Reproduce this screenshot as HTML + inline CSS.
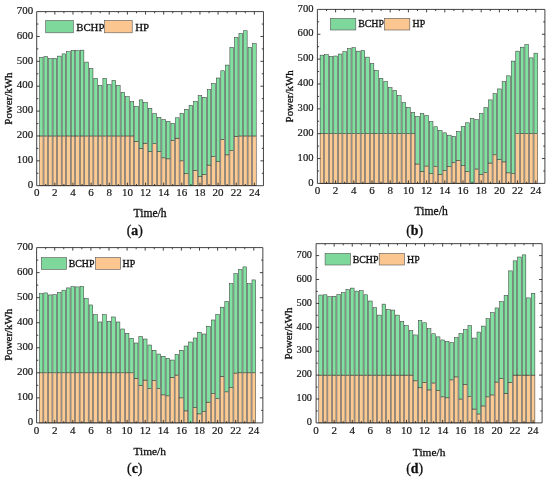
<!DOCTYPE html>
<html><head><meta charset="utf-8"><title>BCHP and HP power</title>
<style>
html,body{margin:0;padding:0;background:#fff}
svg{display:block;font-family:"Liberation Serif","DejaVu Serif",serif}
</style></head><body>
<svg width="550" height="480" viewBox="0 0 550 480">
<rect width="550" height="480" fill="#fff"/>
<g stroke="#303030" stroke-width="0.5"><rect x="39.41" y="135.96" width="3.65" height="49.74" fill="#fccb94"/><rect x="39.41" y="57.36" width="3.65" height="78.59" fill="#82e0a0"/><rect x="43.95" y="135.96" width="3.65" height="49.74" fill="#fccb94"/><rect x="43.95" y="56.62" width="3.65" height="79.34" fill="#82e0a0"/><rect x="48.48" y="135.96" width="3.65" height="49.74" fill="#fccb94"/><rect x="48.48" y="58.61" width="3.65" height="77.35" fill="#82e0a0"/><rect x="53.02" y="135.96" width="3.65" height="49.74" fill="#fccb94"/><rect x="53.02" y="58.36" width="3.65" height="77.6" fill="#82e0a0"/><rect x="57.55" y="135.96" width="3.65" height="49.74" fill="#fccb94"/><rect x="57.55" y="56.12" width="3.65" height="79.84" fill="#82e0a0"/><rect x="62.09" y="135.96" width="3.65" height="49.74" fill="#fccb94"/><rect x="62.09" y="53.88" width="3.65" height="82.08" fill="#82e0a0"/><rect x="66.62" y="135.96" width="3.65" height="49.74" fill="#fccb94"/><rect x="66.62" y="51.64" width="3.65" height="84.31" fill="#82e0a0"/><rect x="71.16" y="135.96" width="3.65" height="49.74" fill="#fccb94"/><rect x="71.16" y="50.4" width="3.65" height="85.56" fill="#82e0a0"/><rect x="75.69" y="135.96" width="3.65" height="49.74" fill="#fccb94"/><rect x="75.69" y="50.65" width="3.65" height="85.31" fill="#82e0a0"/><rect x="80.23" y="135.96" width="3.65" height="49.74" fill="#fccb94"/><rect x="80.23" y="50.15" width="3.65" height="85.81" fill="#82e0a0"/><rect x="84.76" y="135.96" width="3.65" height="49.74" fill="#fccb94"/><rect x="84.76" y="62.09" width="3.65" height="73.87" fill="#82e0a0"/><rect x="89.3" y="135.96" width="3.65" height="49.74" fill="#fccb94"/><rect x="89.3" y="68.56" width="3.65" height="67.4" fill="#82e0a0"/><rect x="93.83" y="135.96" width="3.65" height="49.74" fill="#fccb94"/><rect x="93.83" y="78.26" width="3.65" height="57.7" fill="#82e0a0"/><rect x="98.36" y="135.96" width="3.65" height="49.74" fill="#fccb94"/><rect x="98.36" y="85.47" width="3.65" height="50.49" fill="#82e0a0"/><rect x="102.9" y="135.96" width="3.65" height="49.74" fill="#fccb94"/><rect x="102.9" y="78.26" width="3.65" height="57.7" fill="#82e0a0"/><rect x="107.44" y="135.96" width="3.65" height="49.74" fill="#fccb94"/><rect x="107.44" y="84.72" width="3.65" height="51.24" fill="#82e0a0"/><rect x="111.97" y="135.96" width="3.65" height="49.74" fill="#fccb94"/><rect x="111.97" y="80.49" width="3.65" height="55.46" fill="#82e0a0"/><rect x="116.5" y="135.96" width="3.65" height="49.74" fill="#fccb94"/><rect x="116.5" y="85.47" width="3.65" height="50.49" fill="#82e0a0"/><rect x="121.04" y="135.96" width="3.65" height="49.74" fill="#fccb94"/><rect x="121.04" y="92.43" width="3.65" height="43.53" fill="#82e0a0"/><rect x="125.58" y="135.96" width="3.65" height="49.74" fill="#fccb94"/><rect x="125.58" y="96.66" width="3.65" height="39.3" fill="#82e0a0"/><rect x="130.11" y="135.96" width="3.65" height="49.74" fill="#fccb94"/><rect x="130.11" y="101.63" width="3.65" height="34.32" fill="#82e0a0"/><rect x="134.65" y="141.43" width="3.65" height="44.27" fill="#fccb94"/><rect x="134.65" y="106.36" width="3.65" height="35.07" fill="#82e0a0"/><rect x="139.18" y="148.39" width="3.65" height="37.31" fill="#fccb94"/><rect x="139.18" y="99.89" width="3.65" height="48.5" fill="#82e0a0"/><rect x="143.72" y="143.17" width="3.65" height="42.53" fill="#fccb94"/><rect x="143.72" y="102.38" width="3.65" height="40.79" fill="#82e0a0"/><rect x="148.25" y="151.63" width="3.65" height="34.07" fill="#fccb94"/><rect x="148.25" y="108.35" width="3.65" height="43.28" fill="#82e0a0"/><rect x="152.79" y="143.67" width="3.65" height="42.03" fill="#fccb94"/><rect x="152.79" y="113.57" width="3.65" height="30.09" fill="#82e0a0"/><rect x="157.32" y="151.63" width="3.65" height="34.07" fill="#fccb94"/><rect x="157.32" y="117.3" width="3.65" height="34.32" fill="#82e0a0"/><rect x="161.86" y="157.84" width="3.65" height="27.86" fill="#fccb94"/><rect x="161.86" y="119.54" width="3.65" height="38.3" fill="#82e0a0"/><rect x="166.39" y="158.84" width="3.65" height="26.86" fill="#fccb94"/><rect x="166.39" y="121.53" width="3.65" height="37.31" fill="#82e0a0"/><rect x="170.93" y="140.43" width="3.65" height="45.27" fill="#fccb94"/><rect x="170.93" y="123.27" width="3.65" height="17.16" fill="#82e0a0"/><rect x="175.46" y="138.2" width="3.65" height="47.5" fill="#fccb94"/><rect x="175.46" y="117.8" width="3.65" height="20.39" fill="#82e0a0"/><rect x="180" y="160.83" width="3.65" height="24.87" fill="#fccb94"/><rect x="180" y="113.57" width="3.65" height="47.26" fill="#82e0a0"/><rect x="184.53" y="173.76" width="3.65" height="11.94" fill="#fccb94"/><rect x="184.53" y="109.34" width="3.65" height="64.42" fill="#82e0a0"/><rect x="189.06" y="105.37" width="3.65" height="80.33" fill="#82e0a0"/><rect x="193.6" y="170.53" width="3.65" height="15.17" fill="#fccb94"/><rect x="193.6" y="101.39" width="3.65" height="69.14" fill="#82e0a0"/><rect x="198.13" y="176.75" width="3.65" height="8.95" fill="#fccb94"/><rect x="198.13" y="95.67" width="3.65" height="81.08" fill="#82e0a0"/><rect x="202.67" y="174.51" width="3.65" height="11.19" fill="#fccb94"/><rect x="202.67" y="97.41" width="3.65" height="77.1" fill="#82e0a0"/><rect x="207.21" y="165.06" width="3.65" height="20.64" fill="#fccb94"/><rect x="207.21" y="89.7" width="3.65" height="75.36" fill="#82e0a0"/><rect x="211.74" y="156.6" width="3.65" height="29.1" fill="#fccb94"/><rect x="211.74" y="83.48" width="3.65" height="73.12" fill="#82e0a0"/><rect x="216.28" y="161.57" width="3.65" height="24.13" fill="#fccb94"/><rect x="216.28" y="78.01" width="3.65" height="83.57" fill="#82e0a0"/><rect x="220.81" y="139.44" width="3.65" height="46.26" fill="#fccb94"/><rect x="220.81" y="70.79" width="3.65" height="68.65" fill="#82e0a0"/><rect x="225.35" y="154.86" width="3.65" height="30.84" fill="#fccb94"/><rect x="225.35" y="65.07" width="3.65" height="89.79" fill="#82e0a0"/><rect x="229.88" y="150.63" width="3.65" height="35.07" fill="#fccb94"/><rect x="229.88" y="47.41" width="3.65" height="103.22" fill="#82e0a0"/><rect x="234.42" y="136.21" width="3.65" height="49.49" fill="#fccb94"/><rect x="234.42" y="37.47" width="3.65" height="98.74" fill="#82e0a0"/><rect x="238.95" y="135.96" width="3.65" height="49.74" fill="#fccb94"/><rect x="238.95" y="33.49" width="3.65" height="102.47" fill="#82e0a0"/><rect x="243.49" y="135.96" width="3.65" height="49.74" fill="#fccb94"/><rect x="243.49" y="30.75" width="3.65" height="105.21" fill="#82e0a0"/><rect x="248.02" y="135.96" width="3.65" height="49.74" fill="#fccb94"/><rect x="248.02" y="47.41" width="3.65" height="88.54" fill="#82e0a0"/><rect x="252.56" y="135.96" width="3.65" height="49.74" fill="#fccb94"/><rect x="252.56" y="43.68" width="3.65" height="92.27" fill="#82e0a0"/></g>
<path d="M36.7 11.6H263.45V185.7H36.7ZM45.77 185.7v-1.7M45.77 11.6v1.7M54.84 185.7v-3M54.84 11.6v3M63.91 185.7v-1.7M63.91 11.6v1.7M72.98 185.7v-3M72.98 11.6v3M82.05 185.7v-1.7M82.05 11.6v1.7M91.12 185.7v-3M91.12 11.6v3M100.19 185.7v-1.7M100.19 11.6v1.7M109.26 185.7v-3M109.26 11.6v3M118.33 185.7v-1.7M118.33 11.6v1.7M127.4 185.7v-3M127.4 11.6v3M136.47 185.7v-1.7M136.47 11.6v1.7M145.54 185.7v-3M145.54 11.6v3M154.61 185.7v-1.7M154.61 11.6v1.7M163.68 185.7v-3M163.68 11.6v3M172.75 185.7v-1.7M172.75 11.6v1.7M181.82 185.7v-3M181.82 11.6v3M190.89 185.7v-1.7M190.89 11.6v1.7M199.96 185.7v-3M199.96 11.6v3M209.03 185.7v-1.7M209.03 11.6v1.7M218.1 185.7v-3M218.1 11.6v3M227.17 185.7v-1.7M227.17 11.6v1.7M236.24 185.7v-3M236.24 11.6v3M245.31 185.7v-1.7M245.31 11.6v1.7M254.38 185.7v-3M254.38 11.6v3M36.7 173.26h1.7M263.45 173.26h-1.7M36.7 160.83h3M263.45 160.83h-3M36.7 148.39h1.7M263.45 148.39h-1.7M36.7 135.96h3M263.45 135.96h-3M36.7 123.52h1.7M263.45 123.52h-1.7M36.7 111.09h3M263.45 111.09h-3M36.7 98.65h1.7M263.45 98.65h-1.7M36.7 86.21h3M263.45 86.21h-3M36.7 73.78h1.7M263.45 73.78h-1.7M36.7 61.34h3M263.45 61.34h-3M36.7 48.91h1.7M263.45 48.91h-1.7M36.7 36.47h3M263.45 36.47h-3M36.7 24.04h1.7M263.45 24.04h-1.7" fill="none" stroke="#222" stroke-width="0.85"/>
<g font-size="10.9" fill="#161616" stroke="#161616" stroke-width="0.18"><text x="36.7" y="196.1" text-anchor="middle" font-size="11">0</text><text x="54.84" y="196.1" text-anchor="middle" font-size="11">2</text><text x="72.98" y="196.1" text-anchor="middle" font-size="11">4</text><text x="91.12" y="196.1" text-anchor="middle" font-size="11">6</text><text x="109.26" y="196.1" text-anchor="middle" font-size="11">8</text><text x="127.4" y="196.1" text-anchor="middle" font-size="11">10</text><text x="145.54" y="196.1" text-anchor="middle" font-size="11">12</text><text x="163.68" y="196.1" text-anchor="middle" font-size="11">14</text><text x="181.82" y="196.1" text-anchor="middle" font-size="11">16</text><text x="199.96" y="196.1" text-anchor="middle" font-size="11">18</text><text x="218.1" y="196.1" text-anchor="middle" font-size="11">20</text><text x="236.24" y="196.1" text-anchor="middle" font-size="11">22</text><text x="254.38" y="196.1" text-anchor="middle" font-size="11">24</text><text x="33.2" y="187.9" text-anchor="end">0</text><text x="33.2" y="163.03" text-anchor="end">100</text><text x="33.2" y="138.16" text-anchor="end">200</text><text x="33.2" y="113.29" text-anchor="end">300</text><text x="33.2" y="88.41" text-anchor="end">400</text><text x="33.2" y="63.54" text-anchor="end">500</text><text x="33.2" y="38.67" text-anchor="end">600</text><text x="33.2" y="13.8" text-anchor="end">700</text></g>
<text x="150.07" y="216.9" text-anchor="middle" font-size="11.6" fill="#101010" stroke="#101010" stroke-width="0.3">Time/h</text>
<text transform="translate(12.4 98.65) rotate(-90)" text-anchor="middle" font-size="10.9" fill="#101010" stroke="#101010" stroke-width="0.3">Power/kWh</text>
<rect x="45.7" y="20.5" width="27.6" height="12.3" fill="#7fd89b" stroke="#555" stroke-width="0.6"/>
<text x="76.2" y="30.5" font-size="10.8" fill="#101010" stroke="#101010" stroke-width="0.3">BCHP</text>
<rect x="104.6" y="20.5" width="27.6" height="12.3" fill="#fbc690" stroke="#555" stroke-width="0.6"/>
<text x="135.2" y="30.5" font-size="10.8" fill="#101010" stroke="#101010" stroke-width="0.3">HP</text>
<text x="134.8" y="235.4" text-anchor="middle" font-size="13.8" fill="#101010" stroke="#101010" stroke-width="0.3">(<tspan font-weight="bold">a</tspan>)</text>
<g stroke="#303030" stroke-width="0.5"><rect x="320.12" y="133.69" width="3.65" height="49.71" fill="#fccb94"/><rect x="320.12" y="55.14" width="3.65" height="78.55" fill="#82e0a0"/><rect x="324.68" y="133.69" width="3.65" height="49.71" fill="#fccb94"/><rect x="324.68" y="54.64" width="3.65" height="79.05" fill="#82e0a0"/><rect x="329.22" y="133.69" width="3.65" height="49.71" fill="#fccb94"/><rect x="329.22" y="56.63" width="3.65" height="77.06" fill="#82e0a0"/><rect x="333.77" y="133.69" width="3.65" height="49.71" fill="#fccb94"/><rect x="333.77" y="56.01" width="3.65" height="77.68" fill="#82e0a0"/><rect x="338.32" y="133.69" width="3.65" height="49.71" fill="#fccb94"/><rect x="338.32" y="54.02" width="3.65" height="79.67" fill="#82e0a0"/><rect x="342.88" y="133.69" width="3.65" height="49.71" fill="#fccb94"/><rect x="342.88" y="51.66" width="3.65" height="82.03" fill="#82e0a0"/><rect x="347.43" y="133.69" width="3.65" height="49.71" fill="#fccb94"/><rect x="347.43" y="48.67" width="3.65" height="85.01" fill="#82e0a0"/><rect x="351.97" y="133.69" width="3.65" height="49.71" fill="#fccb94"/><rect x="351.97" y="47.68" width="3.65" height="86.01" fill="#82e0a0"/><rect x="356.52" y="133.69" width="3.65" height="49.71" fill="#fccb94"/><rect x="356.52" y="51.16" width="3.65" height="82.53" fill="#82e0a0"/><rect x="361.07" y="133.69" width="3.65" height="49.71" fill="#fccb94"/><rect x="361.07" y="50.66" width="3.65" height="83.02" fill="#82e0a0"/><rect x="365.62" y="133.69" width="3.65" height="49.71" fill="#fccb94"/><rect x="365.62" y="57.13" width="3.65" height="76.56" fill="#82e0a0"/><rect x="370.18" y="133.69" width="3.65" height="49.71" fill="#fccb94"/><rect x="370.18" y="63.59" width="3.65" height="70.1" fill="#82e0a0"/><rect x="374.72" y="133.69" width="3.65" height="49.71" fill="#fccb94"/><rect x="374.72" y="70.55" width="3.65" height="63.14" fill="#82e0a0"/><rect x="379.27" y="133.69" width="3.65" height="49.71" fill="#fccb94"/><rect x="379.27" y="78.5" width="3.65" height="55.18" fill="#82e0a0"/><rect x="383.82" y="133.69" width="3.65" height="49.71" fill="#fccb94"/><rect x="383.82" y="81.61" width="3.65" height="52.08" fill="#82e0a0"/><rect x="388.38" y="133.69" width="3.65" height="49.71" fill="#fccb94"/><rect x="388.38" y="87.7" width="3.65" height="45.99" fill="#82e0a0"/><rect x="392.93" y="133.69" width="3.65" height="49.71" fill="#fccb94"/><rect x="392.93" y="90.56" width="3.65" height="43.13" fill="#82e0a0"/><rect x="397.47" y="133.69" width="3.65" height="49.71" fill="#fccb94"/><rect x="397.47" y="95.65" width="3.65" height="38.03" fill="#82e0a0"/><rect x="402.02" y="133.69" width="3.65" height="49.71" fill="#fccb94"/><rect x="402.02" y="102.61" width="3.65" height="31.07" fill="#82e0a0"/><rect x="406.57" y="133.69" width="3.65" height="49.71" fill="#fccb94"/><rect x="406.57" y="107.34" width="3.65" height="26.35" fill="#82e0a0"/><rect x="411.12" y="133.69" width="3.65" height="49.71" fill="#fccb94"/><rect x="411.12" y="112.56" width="3.65" height="21.13" fill="#82e0a0"/><rect x="415.68" y="164.01" width="3.65" height="19.39" fill="#fccb94"/><rect x="415.68" y="116.41" width="3.65" height="47.6" fill="#82e0a0"/><rect x="420.22" y="171.47" width="3.65" height="11.93" fill="#fccb94"/><rect x="420.22" y="113.55" width="3.65" height="57.92" fill="#82e0a0"/><rect x="424.77" y="166" width="3.65" height="17.4" fill="#fccb94"/><rect x="424.77" y="115.54" width="3.65" height="50.46" fill="#82e0a0"/><rect x="429.32" y="173.71" width="3.65" height="9.69" fill="#fccb94"/><rect x="429.32" y="121.61" width="3.65" height="52.1" fill="#82e0a0"/><rect x="433.88" y="166.6" width="3.65" height="16.8" fill="#fccb94"/><rect x="433.88" y="126.8" width="3.65" height="39.8" fill="#82e0a0"/><rect x="438.43" y="174.45" width="3.65" height="8.95" fill="#fccb94"/><rect x="438.43" y="130.45" width="3.65" height="44" fill="#82e0a0"/><rect x="442.97" y="170.47" width="3.65" height="12.93" fill="#fccb94"/><rect x="442.97" y="132.82" width="3.65" height="37.66" fill="#82e0a0"/><rect x="447.52" y="166.75" width="3.65" height="16.65" fill="#fccb94"/><rect x="447.52" y="135.18" width="3.65" height="31.57" fill="#82e0a0"/><rect x="452.07" y="162.77" width="3.65" height="20.63" fill="#fccb94"/><rect x="452.07" y="136.42" width="3.65" height="26.35" fill="#82e0a0"/><rect x="456.62" y="160.53" width="3.65" height="22.87" fill="#fccb94"/><rect x="456.62" y="131.45" width="3.65" height="29.08" fill="#82e0a0"/><rect x="461.18" y="165.75" width="3.65" height="17.65" fill="#fccb94"/><rect x="461.18" y="126.6" width="3.65" height="39.15" fill="#82e0a0"/><rect x="465.72" y="171.59" width="3.65" height="11.81" fill="#fccb94"/><rect x="465.72" y="122.8" width="3.65" height="48.79" fill="#82e0a0"/><rect x="470.27" y="118.6" width="3.65" height="64.8" fill="#82e0a0"/><rect x="474.82" y="168.98" width="3.65" height="14.42" fill="#fccb94"/><rect x="474.82" y="119.62" width="3.65" height="49.37" fill="#82e0a0"/><rect x="479.37" y="174.45" width="3.65" height="8.95" fill="#fccb94"/><rect x="479.37" y="113.55" width="3.65" height="60.9" fill="#82e0a0"/><rect x="483.93" y="172.71" width="3.65" height="10.69" fill="#fccb94"/><rect x="483.93" y="107.59" width="3.65" height="65.13" fill="#82e0a0"/><rect x="488.47" y="163.02" width="3.65" height="20.38" fill="#fccb94"/><rect x="488.47" y="99.88" width="3.65" height="63.14" fill="#82e0a0"/><rect x="493.02" y="154.81" width="3.65" height="28.59" fill="#fccb94"/><rect x="493.02" y="93.67" width="3.65" height="61.15" fill="#82e0a0"/><rect x="497.57" y="159.54" width="3.65" height="23.86" fill="#fccb94"/><rect x="497.57" y="88.94" width="3.65" height="70.59" fill="#82e0a0"/><rect x="502.12" y="161.9" width="3.65" height="21.5" fill="#fccb94"/><rect x="502.12" y="81.73" width="3.65" height="80.16" fill="#82e0a0"/><rect x="506.68" y="172.84" width="3.65" height="10.56" fill="#fccb94"/><rect x="506.68" y="75.87" width="3.65" height="96.97" fill="#82e0a0"/><rect x="511.22" y="173.71" width="3.65" height="9.69" fill="#fccb94"/><rect x="511.22" y="61.1" width="3.65" height="112.6" fill="#82e0a0"/><rect x="515.77" y="133.69" width="3.65" height="49.71" fill="#fccb94"/><rect x="515.77" y="51.16" width="3.65" height="82.53" fill="#82e0a0"/><rect x="520.32" y="133.69" width="3.65" height="49.71" fill="#fccb94"/><rect x="520.32" y="47.18" width="3.65" height="86.5" fill="#82e0a0"/><rect x="524.87" y="133.69" width="3.65" height="49.71" fill="#fccb94"/><rect x="524.87" y="44.7" width="3.65" height="88.99" fill="#82e0a0"/><rect x="529.42" y="133.69" width="3.65" height="49.71" fill="#fccb94"/><rect x="529.42" y="57.87" width="3.65" height="75.81" fill="#82e0a0"/><rect x="533.97" y="133.69" width="3.65" height="49.71" fill="#fccb94"/><rect x="533.97" y="53.15" width="3.65" height="80.54" fill="#82e0a0"/></g>
<path d="M317.4 9.4H544.9V183.4H317.4ZM326.5 183.4v-1.7M326.5 9.4v1.7M335.6 183.4v-3M335.6 9.4v3M344.7 183.4v-1.7M344.7 9.4v1.7M353.8 183.4v-3M353.8 9.4v3M362.9 183.4v-1.7M362.9 9.4v1.7M372 183.4v-3M372 9.4v3M381.1 183.4v-1.7M381.1 9.4v1.7M390.2 183.4v-3M390.2 9.4v3M399.3 183.4v-1.7M399.3 9.4v1.7M408.4 183.4v-3M408.4 9.4v3M417.5 183.4v-1.7M417.5 9.4v1.7M426.6 183.4v-3M426.6 9.4v3M435.7 183.4v-1.7M435.7 9.4v1.7M444.8 183.4v-3M444.8 9.4v3M453.9 183.4v-1.7M453.9 9.4v1.7M463 183.4v-3M463 9.4v3M472.1 183.4v-1.7M472.1 9.4v1.7M481.2 183.4v-3M481.2 9.4v3M490.3 183.4v-1.7M490.3 9.4v1.7M499.4 183.4v-3M499.4 9.4v3M508.5 183.4v-1.7M508.5 9.4v1.7M517.6 183.4v-3M517.6 9.4v3M526.7 183.4v-1.7M526.7 9.4v1.7M535.8 183.4v-3M535.8 9.4v3M317.4 170.97h1.7M544.9 170.97h-1.7M317.4 158.54h3M544.9 158.54h-3M317.4 146.11h1.7M544.9 146.11h-1.7M317.4 133.69h3M544.9 133.69h-3M317.4 121.26h1.7M544.9 121.26h-1.7M317.4 108.83h3M544.9 108.83h-3M317.4 96.4h1.7M544.9 96.4h-1.7M317.4 83.97h3M544.9 83.97h-3M317.4 71.54h1.7M544.9 71.54h-1.7M317.4 59.11h3M544.9 59.11h-3M317.4 46.69h1.7M544.9 46.69h-1.7M317.4 34.26h3M544.9 34.26h-3M317.4 21.83h1.7M544.9 21.83h-1.7" fill="none" stroke="#222" stroke-width="0.85"/>
<g font-size="10.6" fill="#161616" stroke="#161616" stroke-width="0.18"><text x="317.4" y="194.2" text-anchor="middle" font-size="11">0</text><text x="335.6" y="194.2" text-anchor="middle" font-size="11">2</text><text x="353.8" y="194.2" text-anchor="middle" font-size="11">4</text><text x="372" y="194.2" text-anchor="middle" font-size="11">6</text><text x="390.2" y="194.2" text-anchor="middle" font-size="11">8</text><text x="408.4" y="194.2" text-anchor="middle" font-size="11">10</text><text x="426.6" y="194.2" text-anchor="middle" font-size="11">12</text><text x="444.8" y="194.2" text-anchor="middle" font-size="11">14</text><text x="463" y="194.2" text-anchor="middle" font-size="11">16</text><text x="481.2" y="194.2" text-anchor="middle" font-size="11">18</text><text x="499.4" y="194.2" text-anchor="middle" font-size="11">20</text><text x="517.6" y="194.2" text-anchor="middle" font-size="11">22</text><text x="535.8" y="194.2" text-anchor="middle" font-size="11">24</text><text x="313.5" y="185.6" text-anchor="end">0</text><text x="313.5" y="160.74" text-anchor="end">100</text><text x="313.5" y="135.89" text-anchor="end">200</text><text x="313.5" y="111.03" text-anchor="end">300</text><text x="313.5" y="86.17" text-anchor="end">400</text><text x="313.5" y="61.31" text-anchor="end">500</text><text x="313.5" y="36.46" text-anchor="end">600</text><text x="313.5" y="11.6" text-anchor="end">700</text></g>
<text x="431.15" y="215.4" text-anchor="middle" font-size="11.6" fill="#101010" stroke="#101010" stroke-width="0.3">Time/h</text>
<text transform="translate(292.7 96.4) rotate(-90)" text-anchor="middle" font-size="10.9" fill="#101010" stroke="#101010" stroke-width="0.3">Power/kWh</text>
<rect x="330.5" y="18.4" width="25.3" height="11.6" fill="#7fd89b" stroke="#555" stroke-width="0.6"/>
<text x="358.2" y="27.4" font-size="9.9" fill="#101010" stroke="#101010" stroke-width="0.3">BCHP</text>
<rect x="384.5" y="18.4" width="25.3" height="11.6" fill="#fbc690" stroke="#555" stroke-width="0.6"/>
<text x="412.6" y="27.4" font-size="9.9" fill="#101010" stroke="#101010" stroke-width="0.3">HP</text>
<text x="414.7" y="234.8" text-anchor="middle" font-size="13.8" fill="#101010" stroke="#101010" stroke-width="0.3">(<tspan font-weight="bold">b</tspan>)</text>
<g stroke="#303030" stroke-width="0.5"><rect x="39.3" y="372.81" width="3.65" height="50.09" fill="#fccb94"/><rect x="39.3" y="293.68" width="3.65" height="79.14" fill="#82e0a0"/><rect x="43.83" y="372.81" width="3.65" height="50.09" fill="#fccb94"/><rect x="43.83" y="292.93" width="3.65" height="79.89" fill="#82e0a0"/><rect x="48.35" y="372.81" width="3.65" height="50.09" fill="#fccb94"/><rect x="48.35" y="294.93" width="3.65" height="77.88" fill="#82e0a0"/><rect x="52.88" y="372.81" width="3.65" height="50.09" fill="#fccb94"/><rect x="52.88" y="294.68" width="3.65" height="78.13" fill="#82e0a0"/><rect x="57.4" y="372.81" width="3.65" height="50.09" fill="#fccb94"/><rect x="57.4" y="292.43" width="3.65" height="80.39" fill="#82e0a0"/><rect x="61.92" y="372.81" width="3.65" height="50.09" fill="#fccb94"/><rect x="61.92" y="290.17" width="3.65" height="82.64" fill="#82e0a0"/><rect x="66.45" y="372.81" width="3.65" height="50.09" fill="#fccb94"/><rect x="66.45" y="287.92" width="3.65" height="84.9" fill="#82e0a0"/><rect x="70.98" y="372.81" width="3.65" height="50.09" fill="#fccb94"/><rect x="70.98" y="286.67" width="3.65" height="86.15" fill="#82e0a0"/><rect x="75.5" y="372.81" width="3.65" height="50.09" fill="#fccb94"/><rect x="75.5" y="286.92" width="3.65" height="85.9" fill="#82e0a0"/><rect x="80.02" y="372.81" width="3.65" height="50.09" fill="#fccb94"/><rect x="80.02" y="286.42" width="3.65" height="86.4" fill="#82e0a0"/><rect x="84.55" y="372.81" width="3.65" height="50.09" fill="#fccb94"/><rect x="84.55" y="298.44" width="3.65" height="74.38" fill="#82e0a0"/><rect x="89.08" y="372.81" width="3.65" height="50.09" fill="#fccb94"/><rect x="89.08" y="304.95" width="3.65" height="67.87" fill="#82e0a0"/><rect x="93.6" y="372.81" width="3.65" height="50.09" fill="#fccb94"/><rect x="93.6" y="314.71" width="3.65" height="58.1" fill="#82e0a0"/><rect x="98.13" y="372.81" width="3.65" height="50.09" fill="#fccb94"/><rect x="98.13" y="321.98" width="3.65" height="50.84" fill="#82e0a0"/><rect x="102.65" y="372.81" width="3.65" height="50.09" fill="#fccb94"/><rect x="102.65" y="314.71" width="3.65" height="58.1" fill="#82e0a0"/><rect x="107.17" y="372.81" width="3.65" height="50.09" fill="#fccb94"/><rect x="107.17" y="321.23" width="3.65" height="51.59" fill="#82e0a0"/><rect x="111.7" y="372.81" width="3.65" height="50.09" fill="#fccb94"/><rect x="111.7" y="316.97" width="3.65" height="55.85" fill="#82e0a0"/><rect x="116.23" y="372.81" width="3.65" height="50.09" fill="#fccb94"/><rect x="116.23" y="321.98" width="3.65" height="50.84" fill="#82e0a0"/><rect x="120.75" y="372.81" width="3.65" height="50.09" fill="#fccb94"/><rect x="120.75" y="328.99" width="3.65" height="43.82" fill="#82e0a0"/><rect x="125.27" y="372.81" width="3.65" height="50.09" fill="#fccb94"/><rect x="125.27" y="333.25" width="3.65" height="39.57" fill="#82e0a0"/><rect x="129.8" y="372.81" width="3.65" height="50.09" fill="#fccb94"/><rect x="129.8" y="338.26" width="3.65" height="34.56" fill="#82e0a0"/><rect x="134.33" y="378.32" width="3.65" height="44.58" fill="#fccb94"/><rect x="134.33" y="343.01" width="3.65" height="35.31" fill="#82e0a0"/><rect x="138.85" y="385.34" width="3.65" height="37.56" fill="#fccb94"/><rect x="138.85" y="336.5" width="3.65" height="48.83" fill="#82e0a0"/><rect x="143.38" y="380.08" width="3.65" height="42.82" fill="#fccb94"/><rect x="143.38" y="339.01" width="3.65" height="41.07" fill="#82e0a0"/><rect x="147.9" y="388.59" width="3.65" height="34.31" fill="#fccb94"/><rect x="147.9" y="345.02" width="3.65" height="43.57" fill="#82e0a0"/><rect x="152.43" y="380.58" width="3.65" height="42.32" fill="#fccb94"/><rect x="152.43" y="350.28" width="3.65" height="30.3" fill="#82e0a0"/><rect x="156.95" y="388.59" width="3.65" height="34.31" fill="#fccb94"/><rect x="156.95" y="354.03" width="3.65" height="34.56" fill="#82e0a0"/><rect x="161.48" y="394.85" width="3.65" height="28.05" fill="#fccb94"/><rect x="161.48" y="356.29" width="3.65" height="38.57" fill="#82e0a0"/><rect x="166" y="395.85" width="3.65" height="27.05" fill="#fccb94"/><rect x="166" y="358.29" width="3.65" height="37.56" fill="#82e0a0"/><rect x="170.53" y="377.32" width="3.65" height="45.58" fill="#fccb94"/><rect x="170.53" y="360.04" width="3.65" height="17.28" fill="#82e0a0"/><rect x="175.05" y="375.07" width="3.65" height="47.83" fill="#fccb94"/><rect x="175.05" y="354.53" width="3.65" height="20.54" fill="#82e0a0"/><rect x="179.58" y="397.86" width="3.65" height="25.04" fill="#fccb94"/><rect x="179.58" y="350.28" width="3.65" height="47.58" fill="#82e0a0"/><rect x="184.1" y="410.88" width="3.65" height="12.02" fill="#fccb94"/><rect x="184.1" y="346.02" width="3.65" height="64.86" fill="#82e0a0"/><rect x="188.63" y="342.01" width="3.65" height="80.89" fill="#82e0a0"/><rect x="193.15" y="407.62" width="3.65" height="15.28" fill="#fccb94"/><rect x="193.15" y="338" width="3.65" height="69.62" fill="#82e0a0"/><rect x="197.68" y="413.88" width="3.65" height="9.02" fill="#fccb94"/><rect x="197.68" y="332.24" width="3.65" height="81.64" fill="#82e0a0"/><rect x="202.2" y="411.63" width="3.65" height="11.27" fill="#fccb94"/><rect x="202.2" y="334" width="3.65" height="77.63" fill="#82e0a0"/><rect x="206.73" y="402.11" width="3.65" height="20.79" fill="#fccb94"/><rect x="206.73" y="326.23" width="3.65" height="75.88" fill="#82e0a0"/><rect x="211.25" y="393.6" width="3.65" height="29.3" fill="#fccb94"/><rect x="211.25" y="319.97" width="3.65" height="73.63" fill="#82e0a0"/><rect x="215.78" y="398.61" width="3.65" height="24.29" fill="#fccb94"/><rect x="215.78" y="314.46" width="3.65" height="84.14" fill="#82e0a0"/><rect x="220.3" y="376.32" width="3.65" height="46.58" fill="#fccb94"/><rect x="220.3" y="307.2" width="3.65" height="69.12" fill="#82e0a0"/><rect x="224.83" y="391.85" width="3.65" height="31.05" fill="#fccb94"/><rect x="224.83" y="301.44" width="3.65" height="90.4" fill="#82e0a0"/><rect x="229.35" y="387.59" width="3.65" height="35.31" fill="#fccb94"/><rect x="229.35" y="283.66" width="3.65" height="103.93" fill="#82e0a0"/><rect x="233.88" y="373.06" width="3.65" height="49.84" fill="#fccb94"/><rect x="233.88" y="273.64" width="3.65" height="99.42" fill="#82e0a0"/><rect x="238.4" y="372.81" width="3.65" height="50.09" fill="#fccb94"/><rect x="238.4" y="269.64" width="3.65" height="103.18" fill="#82e0a0"/><rect x="242.93" y="372.81" width="3.65" height="50.09" fill="#fccb94"/><rect x="242.93" y="266.88" width="3.65" height="105.93" fill="#82e0a0"/><rect x="247.45" y="372.81" width="3.65" height="50.09" fill="#fccb94"/><rect x="247.45" y="283.66" width="3.65" height="89.15" fill="#82e0a0"/><rect x="251.98" y="372.81" width="3.65" height="50.09" fill="#fccb94"/><rect x="251.98" y="279.91" width="3.65" height="92.91" fill="#82e0a0"/></g>
<path d="M36.6 247.6H262.85V422.9H36.6ZM45.65 422.9v-1.7M45.65 247.6v1.7M54.7 422.9v-3M54.7 247.6v3M63.75 422.9v-1.7M63.75 247.6v1.7M72.8 422.9v-3M72.8 247.6v3M81.85 422.9v-1.7M81.85 247.6v1.7M90.9 422.9v-3M90.9 247.6v3M99.95 422.9v-1.7M99.95 247.6v1.7M109 422.9v-3M109 247.6v3M118.05 422.9v-1.7M118.05 247.6v1.7M127.1 422.9v-3M127.1 247.6v3M136.15 422.9v-1.7M136.15 247.6v1.7M145.2 422.9v-3M145.2 247.6v3M154.25 422.9v-1.7M154.25 247.6v1.7M163.3 422.9v-3M163.3 247.6v3M172.35 422.9v-1.7M172.35 247.6v1.7M181.4 422.9v-3M181.4 247.6v3M190.45 422.9v-1.7M190.45 247.6v1.7M199.5 422.9v-3M199.5 247.6v3M208.55 422.9v-1.7M208.55 247.6v1.7M217.6 422.9v-3M217.6 247.6v3M226.65 422.9v-1.7M226.65 247.6v1.7M235.7 422.9v-3M235.7 247.6v3M244.75 422.9v-1.7M244.75 247.6v1.7M253.8 422.9v-3M253.8 247.6v3M36.6 410.38h1.7M262.85 410.38h-1.7M36.6 397.86h3M262.85 397.86h-3M36.6 385.34h1.7M262.85 385.34h-1.7M36.6 372.81h3M262.85 372.81h-3M36.6 360.29h1.7M262.85 360.29h-1.7M36.6 347.77h3M262.85 347.77h-3M36.6 335.25h1.7M262.85 335.25h-1.7M36.6 322.73h3M262.85 322.73h-3M36.6 310.21h1.7M262.85 310.21h-1.7M36.6 297.69h3M262.85 297.69h-3M36.6 285.16h1.7M262.85 285.16h-1.7M36.6 272.64h3M262.85 272.64h-3M36.6 260.12h1.7M262.85 260.12h-1.7" fill="none" stroke="#222" stroke-width="0.85"/>
<g font-size="10.8" fill="#161616" stroke="#161616" stroke-width="0.18"><text x="36.6" y="433.7" text-anchor="middle" font-size="11">0</text><text x="54.7" y="433.7" text-anchor="middle" font-size="11">2</text><text x="72.8" y="433.7" text-anchor="middle" font-size="11">4</text><text x="90.9" y="433.7" text-anchor="middle" font-size="11">6</text><text x="109" y="433.7" text-anchor="middle" font-size="11">8</text><text x="127.1" y="433.7" text-anchor="middle" font-size="11">10</text><text x="145.2" y="433.7" text-anchor="middle" font-size="11">12</text><text x="163.3" y="433.7" text-anchor="middle" font-size="11">14</text><text x="181.4" y="433.7" text-anchor="middle" font-size="11">16</text><text x="199.5" y="433.7" text-anchor="middle" font-size="11">18</text><text x="217.6" y="433.7" text-anchor="middle" font-size="11">20</text><text x="235.7" y="433.7" text-anchor="middle" font-size="11">22</text><text x="253.8" y="433.7" text-anchor="middle" font-size="11">24</text><text x="33.2" y="425.1" text-anchor="end">0</text><text x="33.2" y="400.06" text-anchor="end">100</text><text x="33.2" y="375.01" text-anchor="end">200</text><text x="33.2" y="349.97" text-anchor="end">300</text><text x="33.2" y="324.93" text-anchor="end">400</text><text x="33.2" y="299.89" text-anchor="end">500</text><text x="33.2" y="274.84" text-anchor="end">600</text><text x="33.2" y="249.8" text-anchor="end">700</text></g>
<text x="149.73" y="455" text-anchor="middle" font-size="11.4" fill="#101010" stroke="#101010" stroke-width="0.3">Time/h</text>
<text transform="translate(12.4 334.75) rotate(-90)" text-anchor="middle" font-size="10.9" fill="#101010" stroke="#101010" stroke-width="0.3">Power/kWh</text>
<rect x="41.4" y="257.6" width="25.2" height="11.8" fill="#7fd89b" stroke="#555" stroke-width="0.6"/>
<text x="68.7" y="266.8" font-size="9.9" fill="#101010" stroke="#101010" stroke-width="0.3">BCHP</text>
<rect x="95.4" y="257.6" width="25.2" height="11.8" fill="#fbc690" stroke="#555" stroke-width="0.6"/>
<text x="122.6" y="266.8" font-size="9.9" fill="#101010" stroke="#101010" stroke-width="0.3">HP</text>
<text x="134.7" y="473.4" text-anchor="middle" font-size="13.8" fill="#101010" stroke="#101010" stroke-width="0.3">(<tspan font-weight="bold">c</tspan>)</text>
<g stroke="#303030" stroke-width="0.5"><rect x="318.8" y="375.1" width="3.65" height="47.8" fill="#fccb94"/><rect x="318.8" y="295.03" width="3.65" height="80.06" fill="#82e0a0"/><rect x="323.32" y="375.1" width="3.65" height="47.8" fill="#fccb94"/><rect x="323.32" y="294.8" width="3.65" height="80.3" fill="#82e0a0"/><rect x="327.84" y="375.1" width="3.65" height="47.8" fill="#fccb94"/><rect x="327.84" y="296.71" width="3.65" height="78.39" fill="#82e0a0"/><rect x="332.36" y="375.1" width="3.65" height="47.8" fill="#fccb94"/><rect x="332.36" y="296.23" width="3.65" height="78.87" fill="#82e0a0"/><rect x="336.88" y="375.1" width="3.65" height="47.8" fill="#fccb94"/><rect x="336.88" y="294.56" width="3.65" height="80.54" fill="#82e0a0"/><rect x="341.4" y="375.1" width="3.65" height="47.8" fill="#fccb94"/><rect x="341.4" y="292.64" width="3.65" height="82.45" fill="#82e0a0"/><rect x="345.92" y="375.1" width="3.65" height="47.8" fill="#fccb94"/><rect x="345.92" y="289.54" width="3.65" height="85.56" fill="#82e0a0"/><rect x="350.44" y="375.1" width="3.65" height="47.8" fill="#fccb94"/><rect x="350.44" y="288.1" width="3.65" height="87" fill="#82e0a0"/><rect x="354.96" y="375.1" width="3.65" height="47.8" fill="#fccb94"/><rect x="354.96" y="291.09" width="3.65" height="84.01" fill="#82e0a0"/><rect x="359.48" y="375.1" width="3.65" height="47.8" fill="#fccb94"/><rect x="359.48" y="290.73" width="3.65" height="84.37" fill="#82e0a0"/><rect x="364" y="375.1" width="3.65" height="47.8" fill="#fccb94"/><rect x="364" y="294.8" width="3.65" height="80.3" fill="#82e0a0"/><rect x="368.52" y="375.1" width="3.65" height="47.8" fill="#fccb94"/><rect x="368.52" y="301.01" width="3.65" height="74.09" fill="#82e0a0"/><rect x="373.04" y="375.1" width="3.65" height="47.8" fill="#fccb94"/><rect x="373.04" y="307.7" width="3.65" height="67.4" fill="#82e0a0"/><rect x="377.56" y="375.1" width="3.65" height="47.8" fill="#fccb94"/><rect x="377.56" y="315.11" width="3.65" height="59.99" fill="#82e0a0"/><rect x="382.08" y="375.1" width="3.65" height="47.8" fill="#fccb94"/><rect x="382.08" y="304.12" width="3.65" height="70.98" fill="#82e0a0"/><rect x="386.6" y="375.1" width="3.65" height="47.8" fill="#fccb94"/><rect x="386.6" y="309.61" width="3.65" height="65.49" fill="#82e0a0"/><rect x="391.12" y="375.1" width="3.65" height="47.8" fill="#fccb94"/><rect x="391.12" y="310.09" width="3.65" height="65.01" fill="#82e0a0"/><rect x="395.64" y="375.1" width="3.65" height="47.8" fill="#fccb94"/><rect x="395.64" y="315.11" width="3.65" height="59.99" fill="#82e0a0"/><rect x="400.16" y="375.1" width="3.65" height="47.8" fill="#fccb94"/><rect x="400.16" y="321.56" width="3.65" height="53.54" fill="#82e0a0"/><rect x="404.68" y="375.1" width="3.65" height="47.8" fill="#fccb94"/><rect x="404.68" y="325.63" width="3.65" height="49.47" fill="#82e0a0"/><rect x="409.19" y="375.1" width="3.65" height="47.8" fill="#fccb94"/><rect x="409.19" y="330.65" width="3.65" height="44.45" fill="#82e0a0"/><rect x="413.72" y="380.84" width="3.65" height="42.06" fill="#fccb94"/><rect x="413.72" y="334.95" width="3.65" height="45.89" fill="#82e0a0"/><rect x="418.24" y="387.77" width="3.65" height="35.13" fill="#fccb94"/><rect x="418.24" y="320.49" width="3.65" height="67.28" fill="#82e0a0"/><rect x="422.76" y="382.27" width="3.65" height="40.63" fill="#fccb94"/><rect x="422.76" y="322.76" width="3.65" height="59.51" fill="#82e0a0"/><rect x="427.28" y="389.92" width="3.65" height="32.98" fill="#fccb94"/><rect x="427.28" y="328.73" width="3.65" height="61.18" fill="#82e0a0"/><rect x="431.8" y="382.99" width="3.65" height="39.91" fill="#fccb94"/><rect x="431.8" y="333.75" width="3.65" height="49.23" fill="#82e0a0"/><rect x="436.31" y="390.63" width="3.65" height="32.26" fill="#fccb94"/><rect x="436.31" y="336.86" width="3.65" height="53.77" fill="#82e0a0"/><rect x="440.84" y="396.85" width="3.65" height="26.05" fill="#fccb94"/><rect x="440.84" y="339.97" width="3.65" height="56.88" fill="#82e0a0"/><rect x="445.36" y="397.81" width="3.65" height="25.09" fill="#fccb94"/><rect x="445.36" y="341.4" width="3.65" height="56.4" fill="#82e0a0"/><rect x="449.88" y="379.88" width="3.65" height="43.02" fill="#fccb94"/><rect x="449.88" y="342.6" width="3.65" height="37.28" fill="#82e0a0"/><rect x="454.4" y="376.89" width="3.65" height="46.01" fill="#fccb94"/><rect x="454.4" y="337.7" width="3.65" height="39.2" fill="#82e0a0"/><rect x="458.92" y="399" width="3.65" height="23.9" fill="#fccb94"/><rect x="458.92" y="333.51" width="3.65" height="65.49" fill="#82e0a0"/><rect x="463.44" y="384.42" width="3.65" height="38.48" fill="#fccb94"/><rect x="463.44" y="329.69" width="3.65" height="54.73" fill="#82e0a0"/><rect x="467.95" y="396.61" width="3.65" height="26.29" fill="#fccb94"/><rect x="467.95" y="325.63" width="3.65" height="70.98" fill="#82e0a0"/><rect x="472.48" y="409.04" width="3.65" height="13.86" fill="#fccb94"/><rect x="472.48" y="338.06" width="3.65" height="70.98" fill="#82e0a0"/><rect x="477" y="413.94" width="3.65" height="8.96" fill="#fccb94"/><rect x="477" y="332.08" width="3.65" height="81.86" fill="#82e0a0"/><rect x="481.52" y="405.93" width="3.65" height="16.97" fill="#fccb94"/><rect x="481.52" y="326.11" width="3.65" height="79.83" fill="#82e0a0"/><rect x="486.04" y="396.85" width="3.65" height="26.05" fill="#fccb94"/><rect x="486.04" y="318.7" width="3.65" height="78.15" fill="#82e0a0"/><rect x="490.56" y="394.94" width="3.65" height="27.96" fill="#fccb94"/><rect x="490.56" y="312.72" width="3.65" height="82.22" fill="#82e0a0"/><rect x="495.07" y="382.03" width="3.65" height="40.87" fill="#fccb94"/><rect x="495.07" y="307.94" width="3.65" height="74.09" fill="#82e0a0"/><rect x="499.6" y="378.69" width="3.65" height="44.21" fill="#fccb94"/><rect x="499.6" y="301.73" width="3.65" height="76.96" fill="#82e0a0"/><rect x="504.12" y="393.26" width="3.65" height="29.64" fill="#fccb94"/><rect x="504.12" y="295.51" width="3.65" height="97.75" fill="#82e0a0"/><rect x="508.64" y="382.39" width="3.65" height="40.51" fill="#fccb94"/><rect x="508.64" y="270.9" width="3.65" height="111.49" fill="#82e0a0"/><rect x="513.15" y="375.1" width="3.65" height="47.8" fill="#fccb94"/><rect x="513.15" y="260.86" width="3.65" height="114.24" fill="#82e0a0"/><rect x="517.67" y="375.1" width="3.65" height="47.8" fill="#fccb94"/><rect x="517.67" y="257.03" width="3.65" height="118.07" fill="#82e0a0"/><rect x="522.19" y="375.1" width="3.65" height="47.8" fill="#fccb94"/><rect x="522.19" y="254.88" width="3.65" height="120.22" fill="#82e0a0"/><rect x="526.71" y="375.1" width="3.65" height="47.8" fill="#fccb94"/><rect x="526.71" y="297.9" width="3.65" height="77.2" fill="#82e0a0"/><rect x="531.23" y="375.1" width="3.65" height="47.8" fill="#fccb94"/><rect x="531.23" y="293.36" width="3.65" height="81.74" fill="#82e0a0"/></g>
<path d="M316.1 243.65H542.1V422.9H316.1ZM325.14 422.9v-1.7M325.14 243.65v1.7M334.18 422.9v-3M334.18 243.65v3M343.22 422.9v-1.7M343.22 243.65v1.7M352.26 422.9v-3M352.26 243.65v3M361.3 422.9v-1.7M361.3 243.65v1.7M370.34 422.9v-3M370.34 243.65v3M379.38 422.9v-1.7M379.38 243.65v1.7M388.42 422.9v-3M388.42 243.65v3M397.46 422.9v-1.7M397.46 243.65v1.7M406.5 422.9v-3M406.5 243.65v3M415.54 422.9v-1.7M415.54 243.65v1.7M424.58 422.9v-3M424.58 243.65v3M433.62 422.9v-1.7M433.62 243.65v1.7M442.66 422.9v-3M442.66 243.65v3M451.7 422.9v-1.7M451.7 243.65v1.7M460.74 422.9v-3M460.74 243.65v3M469.78 422.9v-1.7M469.78 243.65v1.7M478.82 422.9v-3M478.82 243.65v3M487.86 422.9v-1.7M487.86 243.65v1.7M496.9 422.9v-3M496.9 243.65v3M505.94 422.9v-1.7M505.94 243.65v1.7M514.98 422.9v-3M514.98 243.65v3M524.02 422.9v-1.7M524.02 243.65v1.7M533.06 422.9v-3M533.06 243.65v3M316.1 410.95h1.7M542.1 410.95h-1.7M316.1 399h3M542.1 399h-3M316.1 387.05h1.7M542.1 387.05h-1.7M316.1 375.1h3M542.1 375.1h-3M316.1 363.15h1.7M542.1 363.15h-1.7M316.1 351.2h3M542.1 351.2h-3M316.1 339.25h1.7M542.1 339.25h-1.7M316.1 327.3h3M542.1 327.3h-3M316.1 315.35h1.7M542.1 315.35h-1.7M316.1 303.4h3M542.1 303.4h-3M316.1 291.45h1.7M542.1 291.45h-1.7M316.1 279.5h3M542.1 279.5h-3M316.1 267.55h1.7M542.1 267.55h-1.7M316.1 255.6h3M542.1 255.6h-3" fill="none" stroke="#222" stroke-width="0.85"/>
<g font-size="10.3" fill="#161616" stroke="#161616" stroke-width="0.18"><text x="316.1" y="434" text-anchor="middle" font-size="11">0</text><text x="334.18" y="434" text-anchor="middle" font-size="11">2</text><text x="352.26" y="434" text-anchor="middle" font-size="11">4</text><text x="370.34" y="434" text-anchor="middle" font-size="11">6</text><text x="388.42" y="434" text-anchor="middle" font-size="11">8</text><text x="406.5" y="434" text-anchor="middle" font-size="11">10</text><text x="424.58" y="434" text-anchor="middle" font-size="11">12</text><text x="442.66" y="434" text-anchor="middle" font-size="11">14</text><text x="460.74" y="434" text-anchor="middle" font-size="11">16</text><text x="478.82" y="434" text-anchor="middle" font-size="11">18</text><text x="496.9" y="434" text-anchor="middle" font-size="11">20</text><text x="514.98" y="434" text-anchor="middle" font-size="11">22</text><text x="533.06" y="434" text-anchor="middle" font-size="11">24</text><text x="312" y="425.1" text-anchor="end">0</text><text x="312" y="401.2" text-anchor="end">100</text><text x="312" y="377.3" text-anchor="end">200</text><text x="312" y="353.4" text-anchor="end">300</text><text x="312" y="329.5" text-anchor="end">400</text><text x="312" y="305.6" text-anchor="end">500</text><text x="312" y="281.7" text-anchor="end">600</text><text x="312" y="257.8" text-anchor="end">700</text></g>
<text x="429.1" y="455.6" text-anchor="middle" font-size="11.4" fill="#101010" stroke="#101010" stroke-width="0.3">Time/h</text>
<text transform="translate(291.5 333.57) rotate(-90)" text-anchor="middle" font-size="10.9" fill="#101010" stroke="#101010" stroke-width="0.3">Power/kWh</text>
<rect x="325.1" y="253.4" width="25.3" height="11.6" fill="#7fd89b" stroke="#555" stroke-width="0.6"/>
<text x="352.7" y="262.5" font-size="9.9" fill="#101010" stroke="#101010" stroke-width="0.3">BCHP</text>
<rect x="379.2" y="253.4" width="25.3" height="11.6" fill="#fbc690" stroke="#555" stroke-width="0.6"/>
<text x="407" y="262.5" font-size="9.9" fill="#101010" stroke="#101010" stroke-width="0.3">HP</text>
<text x="414.7" y="472.8" text-anchor="middle" font-size="13.8" fill="#101010" stroke="#101010" stroke-width="0.3">(<tspan font-weight="bold">d</tspan>)</text>
</svg>
</body></html>
